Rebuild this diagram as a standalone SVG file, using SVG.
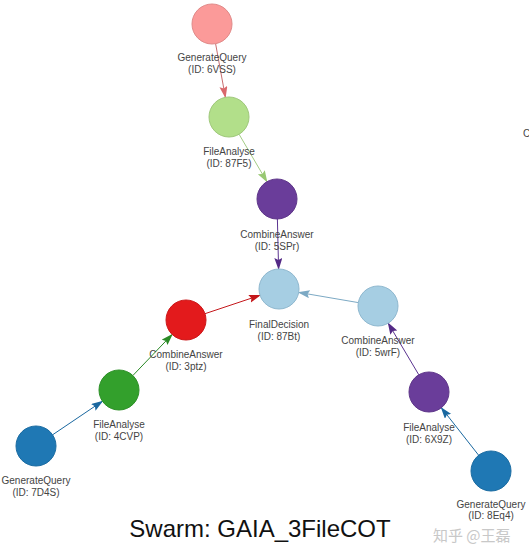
<svg xmlns="http://www.w3.org/2000/svg" width="529" height="553" viewBox="0 0 529 553">
<style>
.lbl{font-family:"Liberation Sans",Arial,sans-serif;font-size:10px;fill:#444;text-anchor:middle}
.n circle{stroke-width:1}
.e line{stroke-width:1;fill:none}
.title{font-family:"Liberation Sans",Arial,sans-serif;font-size:24px;fill:#111;text-anchor:middle}
.wm{font-family:"Noto Sans CJK SC",sans-serif;font-size:15px;fill:#c8c8c8}
</style>
<defs>
<marker id="mPink" markerWidth="12" markerHeight="10" refX="11" refY="4" orient="auto" markerUnits="userSpaceOnUse"><path d="M0,0 L12,4 L0,8 L2,4 z" fill="#d9686c"/></marker>
<marker id="mLG" markerWidth="12" markerHeight="10" refX="11" refY="4" orient="auto" markerUnits="userSpaceOnUse"><path d="M0,0 L12,4 L0,8 L2,4 z" fill="#98c872"/></marker>
<marker id="mPur" markerWidth="12" markerHeight="10" refX="11" refY="4" orient="auto" markerUnits="userSpaceOnUse"><path d="M0,0 L12,4 L0,8 L2,4 z" fill="#542a86"/></marker>
<marker id="mRed" markerWidth="12" markerHeight="10" refX="11" refY="4" orient="auto" markerUnits="userSpaceOnUse"><path d="M0,0 L12,4 L0,8 L2,4 z" fill="#c4161a"/></marker>
<marker id="mLB" markerWidth="12" markerHeight="10" refX="11" refY="4" orient="auto" markerUnits="userSpaceOnUse"><path d="M0,0 L12,4 L0,8 L2,4 z" fill="#7ca9c4"/></marker>
<marker id="mGr" markerWidth="12" markerHeight="10" refX="11" refY="4" orient="auto" markerUnits="userSpaceOnUse"><path d="M0,0 L12,4 L0,8 L2,4 z" fill="#2a8a25"/></marker>
<marker id="mBl" markerWidth="12" markerHeight="10" refX="11" refY="4" orient="auto" markerUnits="userSpaceOnUse"><path d="M0,0 L12,4 L0,8 L2,4 z" fill="#1a68a0"/></marker>
</defs>
<g id="connectors" class="e">
<line x1="215.6" y1="43.7" x2="225.4" y2="97.3" stroke="#c86e70" marker-end="url(#mPink)"/>
<line x1="239.1" y1="134.3" x2="266.9" y2="181.7" stroke="#a3cc85" marker-end="url(#mLG)"/>
<line x1="277.4" y1="219" x2="278.6" y2="269" stroke="#5a3390" marker-end="url(#mPur)"/>
<line x1="205" y1="313.7" x2="260" y2="295.3" stroke="#c4161a" marker-end="url(#mRed)"/>
<line x1="358.3" y1="302.6" x2="298.7" y2="292.4" stroke="#7ca9c4" marker-end="url(#mLB)"/>
<line x1="132.8" y1="375.6" x2="172.2" y2="334.4" stroke="#2a8a25" marker-end="url(#mGr)"/>
<line x1="418.8" y1="374.8" x2="388.2" y2="323.2" stroke="#5a3390" marker-end="url(#mPur)"/>
<line x1="52.6" y1="434.8" x2="102.4" y2="401.2" stroke="#1a68a0" marker-end="url(#mBl)"/>
<line x1="478.7" y1="455.3" x2="441.3" y2="407.7" stroke="#1a68a0" marker-end="url(#mBl)"/>
</g>
<g id="n6VSS" class="n"><circle cx="212" cy="24" r="20" fill="#fb9a99" stroke="#e08a89"/><text class="lbl" x="212" y="61">GenerateQuery</text><text class="lbl" x="212" y="73">(ID: 6VSS)</text></g>
<g id="n87F5" class="n"><circle cx="229" cy="117" r="20" fill="#b2df8a" stroke="#9fc87b"/><text class="lbl" x="229" y="155">FileAnalyse</text><text class="lbl" x="229" y="167">(ID: 87F5)</text></g>
<g id="n5SPr" class="n"><circle cx="277" cy="199" r="20" fill="#6a3d9a" stroke="#5f368a"/><text class="lbl" x="277" y="238">CombineAnswer</text><text class="lbl" x="277" y="250">(ID: 5SPr)</text></g>
<g id="n87Bt" class="n"><circle cx="279" cy="289" r="20" fill="#a6cee3" stroke="#8fb8cf"/><text class="lbl" x="279" y="328">FinalDecision</text><text class="lbl" x="279" y="340">(ID: 87Bt)</text></g>
<g id="n3ptz" class="n"><circle cx="186" cy="320" r="20" fill="#e31a1c" stroke="#cc1719"/><text class="lbl" x="186" y="358">CombineAnswer</text><text class="lbl" x="186" y="370">(ID: 3ptz)</text></g>
<g id="n5wrF" class="n"><circle cx="378" cy="306" r="20" fill="#a6cee3" stroke="#8fb8cf"/><text class="lbl" x="378" y="344">CombineAnswer</text><text class="lbl" x="378" y="356">(ID: 5wrF)</text></g>
<g id="n4CVP" class="n"><circle cx="119" cy="390" r="20" fill="#33a02c" stroke="#2d9027"/><text class="lbl" x="119" y="428">FileAnalyse</text><text class="lbl" x="119" y="440">(ID: 4CVP)</text></g>
<g id="n6X9Z" class="n"><circle cx="429" cy="392" r="20" fill="#6a3d9a" stroke="#5f368a"/><text class="lbl" x="429" y="431">FileAnalyse</text><text class="lbl" x="429" y="443">(ID: 6X9Z)</text></g>
<g id="n7D4S" class="n"><circle cx="36" cy="446" r="20" fill="#1f78b4" stroke="#1b6ca2"/><text class="lbl" x="36" y="484">GenerateQuery</text><text class="lbl" x="36" y="496">(ID: 7D4S)</text></g>
<g id="n8Eq4" class="n"><circle cx="491" cy="471" r="20" fill="#1f78b4" stroke="#1b6ca2"/><text class="lbl" x="491" y="508">GenerateQuery</text><text class="lbl" x="491" y="519">(ID: 8Eq4)</text></g>
<text class="lbl" x="523" y="137" style="text-anchor:start">C</text>
<text class="title" x="260" y="537">Swarm: GAIA_3FileCOT</text>
<text class="wm" x="433" y="541">知乎 @王磊</text>
</svg>
